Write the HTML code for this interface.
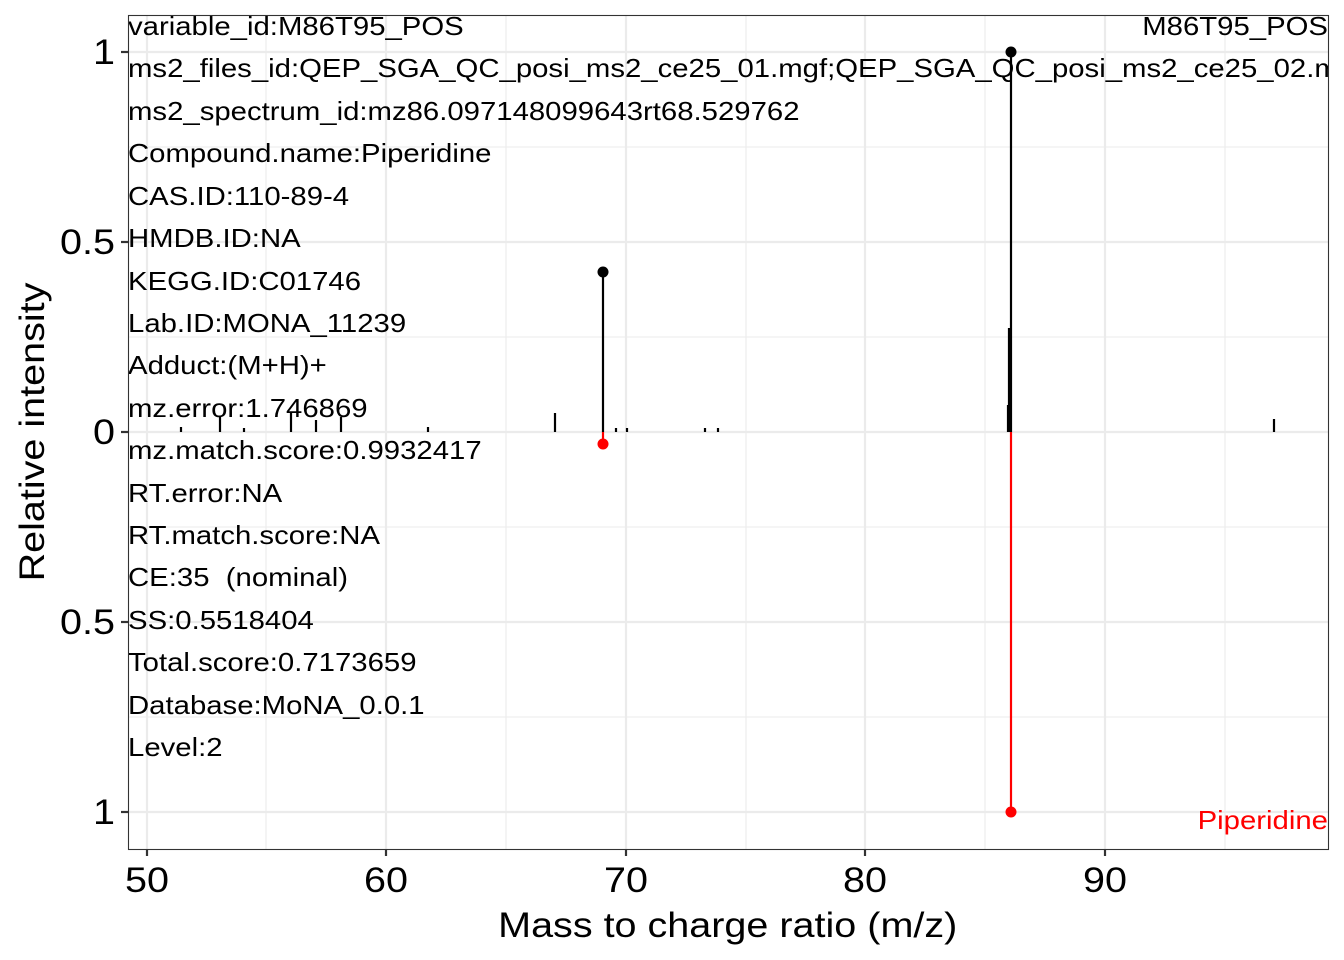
<!DOCTYPE html>
<html><head><meta charset="utf-8"><style>body{margin:0;background:#fff}svg{display:block}</style></head><body>
<svg width="1344" height="960" xmlns="http://www.w3.org/2000/svg" font-family="Liberation Sans, Arial, sans-serif">
<rect width="1344" height="960" fill="#fff"/>
<g stroke="#ebebeb" stroke-width="1.1">
<line x1="266" y1="15" x2="266" y2="849"/><line x1="506" y1="15" x2="506" y2="849"/><line x1="746" y1="15" x2="746" y2="849"/><line x1="985" y1="15" x2="985" y2="849"/><line x1="1225" y1="15" x2="1225" y2="849"/>
<line x1="128" y1="147" x2="1328" y2="147"/><line x1="128" y1="337" x2="1328" y2="337"/><line x1="128" y1="527" x2="1328" y2="527"/><line x1="128" y1="717" x2="1328" y2="717"/>
</g>
<g stroke="#ebebeb" stroke-width="2.2">
<line x1="147" y1="15" x2="147" y2="849"/><line x1="386" y1="15" x2="386" y2="849"/><line x1="626" y1="15" x2="626" y2="849"/><line x1="865" y1="15" x2="865" y2="849"/><line x1="1105" y1="15" x2="1105" y2="849"/>
<line x1="128" y1="52" x2="1328" y2="52"/><line x1="128" y1="242" x2="1328" y2="242"/><line x1="128" y1="432" x2="1328" y2="432"/><line x1="128" y1="622" x2="1328" y2="622"/><line x1="128" y1="812" x2="1328" y2="812"/>
</g>
<g stroke="#000" stroke-width="2.2">
<line x1="181" y1="432" x2="181" y2="427"/><line x1="220" y1="432" x2="220" y2="417"/><line x1="244" y1="432" x2="244" y2="428"/>
<line x1="291" y1="432" x2="291" y2="412"/><line x1="316" y1="432" x2="316" y2="420"/><line x1="341" y1="432" x2="341" y2="417"/>
<line x1="428" y1="432" x2="428" y2="427"/><line x1="555" y1="432" x2="555" y2="413"/>
<line x1="616" y1="432" x2="616" y2="428"/><line x1="627" y1="432" x2="627" y2="428"/><line x1="705" y1="432" x2="705" y2="428"/><line x1="718" y1="432" x2="718" y2="428"/>
<line x1="603" y1="432" x2="603" y2="272"/>
<line x1="1011" y1="432" x2="1011" y2="52"/><line x1="1009" y1="432" x2="1009" y2="328"/><line x1="1008" y1="432" x2="1008" y2="405"/>
<line x1="1274" y1="432" x2="1274" y2="419"/>
</g>
<circle cx="603" cy="272" r="5.5" fill="#000"/><circle cx="1011" cy="52" r="5.5" fill="#000"/>
<g stroke="#f00" stroke-width="2.2"><line x1="603" y1="432" x2="603" y2="444"/><line x1="1011" y1="432" x2="1011" y2="812"/></g>
<circle cx="603" cy="444" r="5.5" fill="#f00"/><circle cx="1011" cy="812" r="5.5" fill="#f00"/>
<g font-size="26" fill="#000" transform="scale(1.128,1)">
<text x="113.5" y="35">variable_id:M86T95_POS</text>
<text x="113.5" y="77">ms2_files_id:QEP_SGA_QC_posi_ms2_ce25_01.mgf;QEP_SGA_QC_posi_ms2_ce25_02.mgf</text>
<text x="113.5" y="120">ms2_spectrum_id:mz86.097148099643rt68.529762</text>
<text x="113.5" y="162">Compound.name:Piperidine</text>
<text x="113.5" y="205">CAS.ID:110-89-4</text>
<text x="113.5" y="247">HMDB.ID:NA</text>
<text x="113.5" y="290">KEGG.ID:C01746</text>
<text x="113.5" y="332">Lab.ID:MONA_11239</text>
<text x="113.5" y="374">Adduct:(M+H)+</text>
<text x="113.5" y="417">mz.error:1.746869</text>
<text x="113.5" y="459">mz.match.score:0.9932417</text>
<text x="113.5" y="502">RT.error:NA</text>
<text x="113.5" y="544">RT.match.score:NA</text>
<text x="113.5" y="586" xml:space="preserve">CE:35  (nominal)</text>
<text x="113.5" y="629">SS:0.5518404</text>
<text x="113.5" y="671">Total.score:0.7173659</text>
<text x="113.5" y="714">Database:MoNA_0.0.1</text>
<text x="113.5" y="756">Level:2</text>
<text x="1177.3" y="35" text-anchor="end">M86T95_POS</text>
<text x="1177.3" y="829" text-anchor="end" fill="#f00">Piperidine</text>
</g>
<rect x="0" y="0" width="128" height="960" fill="#fff"/>
<rect x="1329" y="0" width="15" height="960" fill="#fff"/>
<rect x="128.5" y="15.5" width="1200" height="834" fill="none" stroke="#333" stroke-width="1.1"/>
<g stroke="#333" stroke-width="2.2">
<line x1="121" y1="52" x2="128" y2="52"/><line x1="121" y1="242" x2="128" y2="242"/><line x1="121" y1="432" x2="128" y2="432"/><line x1="121" y1="622" x2="128" y2="622"/><line x1="121" y1="812" x2="128" y2="812"/>
<line x1="147" y1="849" x2="147" y2="856"/><line x1="386" y1="849" x2="386" y2="856"/><line x1="626" y1="849" x2="626" y2="856"/><line x1="865" y1="849" x2="865" y2="856"/><line x1="1105" y1="849" x2="1105" y2="856"/>
</g>
<g font-size="35" fill="#000" text-anchor="end" transform="scale(1.13,1)">
<text x="101.8" y="64">1</text><text x="101.8" y="254">0.5</text><text x="101.8" y="444">0</text><text x="101.8" y="634">0.5</text><text x="101.8" y="824">1</text>
</g>
<g font-size="35" fill="#000" text-anchor="middle" transform="scale(1.13,1)">
<text x="130.1" y="892">50</text><text x="341.6" y="892">60</text><text x="554" y="892">70</text><text x="765.5" y="892">80</text><text x="977.9" y="892">90</text>
<text x="644" y="937">Mass to charge ratio (m/z)</text>
</g>
<text font-size="35" text-anchor="middle" transform="translate(44,432) rotate(-90) scale(1.13,1)">Relative intensity</text>
</svg>
</body></html>
